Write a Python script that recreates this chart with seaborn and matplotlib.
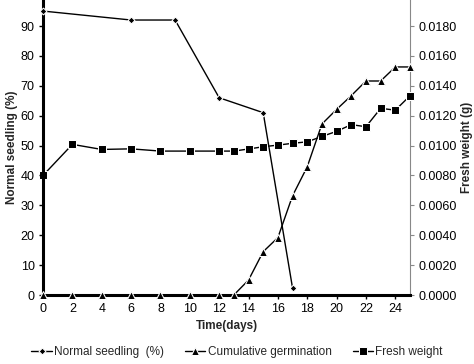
import matplotlib
matplotlib.use("Agg")
import matplotlib.pyplot as plt
import seaborn as sns
from matplotlib.ticker import FormatStrFormatter, MultipleLocator

sns.set_theme(style="white")
plt.rcParams["font.family"] = ["Liberation Sans", "DejaVu Sans"]

# Normal seedling (%) - left axis
seed_days = [0, 6, 9, 12, 15, 17]
seed_pct = [95.0, 92.0, 92.0, 66.0, 61.0, 2.3]

# Cumulative germination (%) - left axis
germ_days = [0, 2, 4, 6, 8, 10, 12, 13, 14, 15, 16, 17, 18, 19, 20, 21, 22, 23, 24, 25]
germ_pct = [0, 0, 0, 0, 0, 0, 0, 0, 5.0, 14.5, 19.2, 33.2, 42.9, 57.2, 62.1, 66.7, 71.6, 71.6, 76.3, 76.3]

# Fresh weight (g) - right axis
fw_days = [0, 2, 4, 6, 8, 10, 12, 13, 14, 15, 16, 17, 18, 19, 20, 21, 22, 23, 24, 25]
fw_g = [0.0080, 0.01008, 0.00974, 0.00978, 0.00963, 0.00963, 0.00963, 0.00963, 0.00977, 0.00992,
        0.01003, 0.01015, 0.01025, 0.01061, 0.01095, 0.0114, 0.01126, 0.01249, 0.01237, 0.01333]

W, H = 474, 364
fig = plt.figure(figsize=(W / 100, H / 100), dpi=100)
ax = fig.add_axes([43 / W, (H - 295) / H, (410 - 43) / W, 295 / H])
ax2 = ax.twinx()

sns.lineplot(x=seed_days, y=seed_pct, ax=ax, color="black", marker="D", markersize=3.5,
             linewidth=1, label="Normal seedling  (%)", legend=False, clip_on=False, zorder=5)
sns.lineplot(x=germ_days, y=germ_pct, ax=ax, color="black", marker="^", markersize=6,
             linewidth=1, label="Cumulative germination", legend=False, clip_on=False, zorder=5)
sns.lineplot(x=fw_days, y=fw_g, ax=ax2, color="black", marker="s", markersize=6,
             linewidth=1, label="Fresh weight", legend=False, clip_on=False, zorder=5)

ax.set_xlim(0, 25)
ax.set_ylim(0, 98.7)
ax2.set_ylim(0, 0.01974)
ax.yaxis.set_major_locator(MultipleLocator(10))
ax2.yaxis.set_major_locator(MultipleLocator(0.002))
ax2.yaxis.set_major_formatter(FormatStrFormatter("%.4f"))
ax.set_xticks(range(0, 25, 2))

for a in (ax, ax2):
    a.spines["top"].set_visible(False)
ax.spines["left"].set_linewidth(2.2)
ax.spines["left"].set_color("black")
ax.spines["bottom"].set_linewidth(2.2)
ax.spines["bottom"].set_color("black")
ax.spines["right"].set_visible(False)
ax2.spines["left"].set_visible(False)
ax2.spines["bottom"].set_visible(False)
ax2.spines["right"].set_color("#888888")
ax2.spines["right"].set_linewidth(0.8)
ax.set_zorder(ax2.get_zorder() + 1)
ax.patch.set_visible(False)

ax.tick_params(axis="both", which="major", labelsize=9, colors="black", length=3, width=1,
               direction="out", left=True, bottom=True, pad=3)
ax2.tick_params(axis="y", labelsize=9, colors="black", length=3, width=0.8, direction="out",
                right=True, pad=3)
ax2.tick_params(axis="y", color="#888888")

ax.set_xlabel("Time(days)", fontsize=8.5, fontweight="bold", labelpad=3)
ax.set_ylabel("Normal seedling (%)", fontsize=8.5, fontweight="bold", labelpad=2)
ax2.set_ylabel("Fresh weight (g)", fontsize=8.5, fontweight="bold", labelpad=3)

h1, l1 = ax.get_legend_handles_labels()
h2, l2 = ax2.get_legend_handles_labels()
fig.legend(h1 + h2, l1 + l2, loc="center", bbox_to_anchor=(0.5, (H - 352) / H), ncol=3,
           frameon=False, fontsize=8.5, handlelength=1.7, handletextpad=0.2, columnspacing=1.8)

fig.savefig("out.png", dpi=100)
